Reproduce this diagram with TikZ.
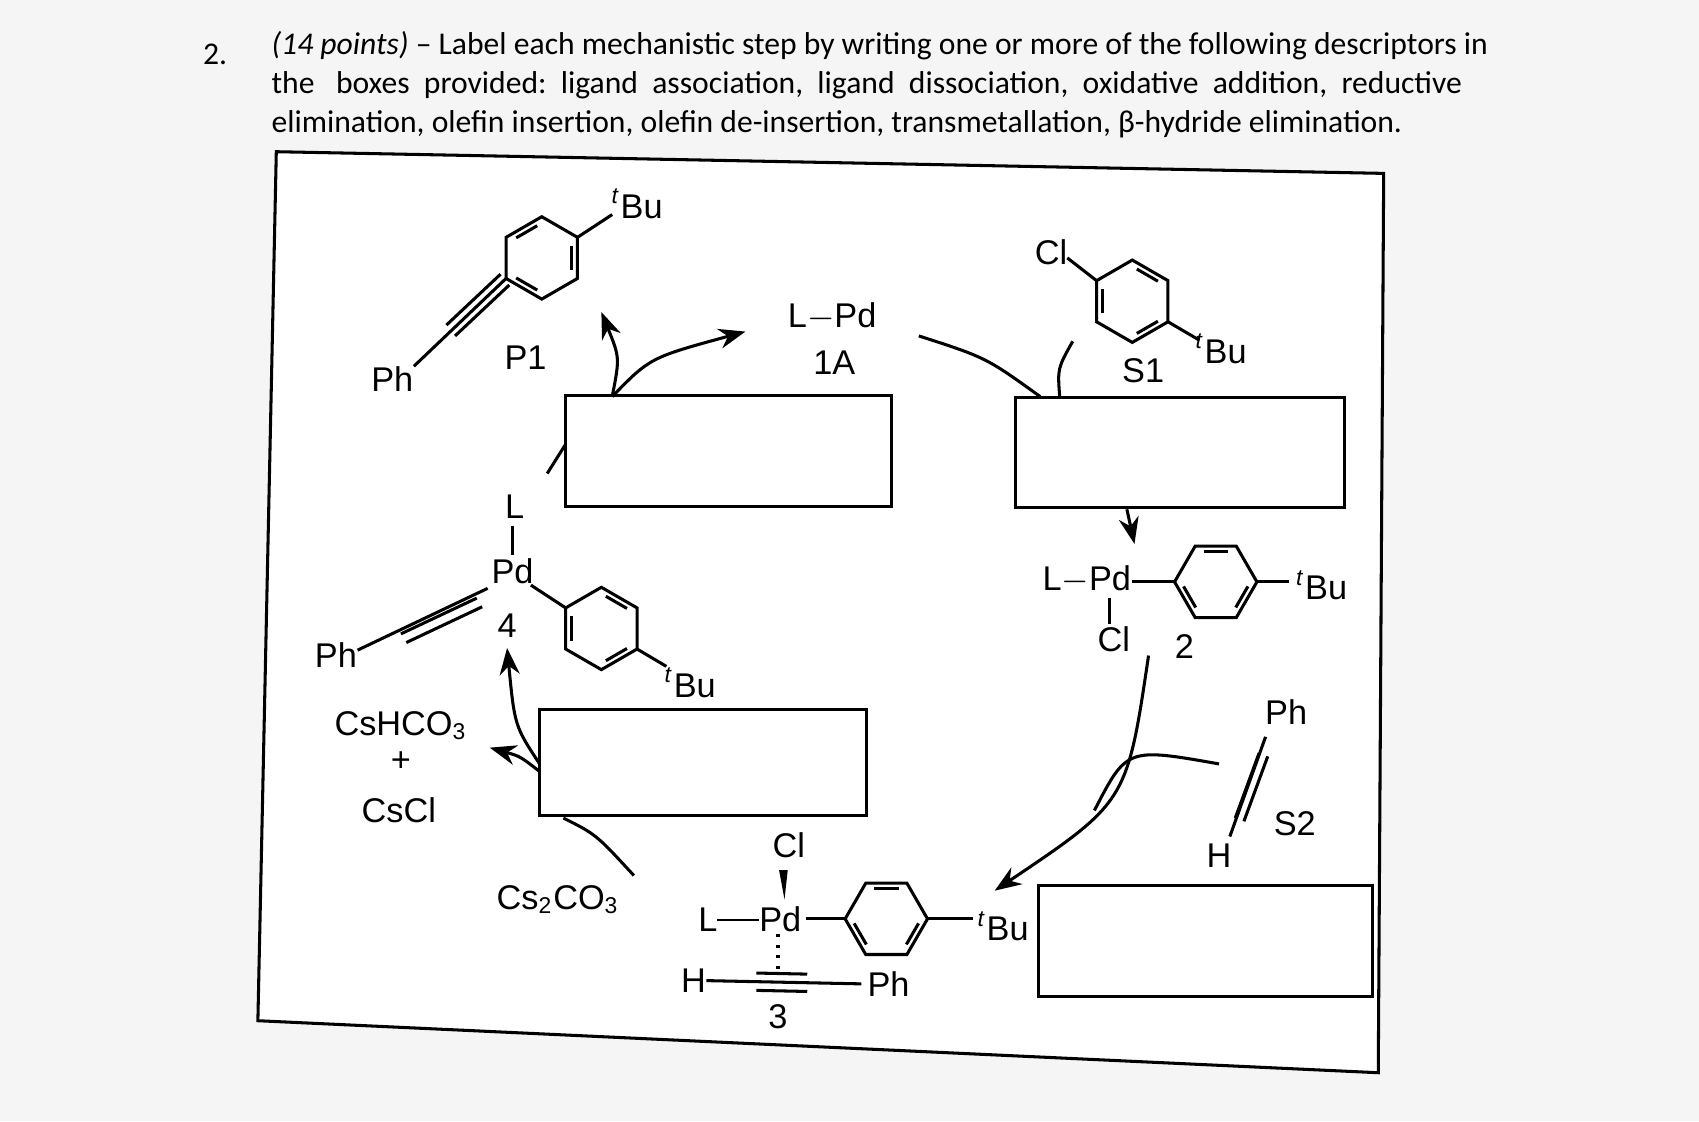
\documentclass[tikz,border=0pt]{standalone}
\usepackage{fontspec}
\setmainfont{Carlito}
\newfontfamily\chem{Liberation Sans}
\usetikzlibrary{arrows.meta,calc}
\newcommand\benz[4]{% name, x, y, rot
 \coordinate (#1) at (#2,#3);
 \draw[thick] ($(#2,#3)+(#4:38)$) \foreach \k in {1,...,5}{ -- ($(#2,#3)+(#4+60*\k:38)$)} -- cycle;
 \foreach \k in {0,2,4}{\draw[thick] ($(#2,#3)+(#4+60*\k+8:30)$) -- ($(#2,#3)+(#4+60*\k+52:30)$);}}
\begin{document}
\begin{tikzpicture}[x=0.01cm,y=-0.01cm,
 lab/.style={font=\chem\fontsize{9}{11}\selectfont,inner sep=1pt},
 box/.style={draw,thick},
 arr/.style={thick,-{Stealth[length=7pt]}},
 bond/.style={thick}]
\useasboundingbox[fill=gray!8] (0,0) rectangle (1568,1035);
\newcommand\tb{\textsuperscript{\textit{t}}Bu}
\node[anchor=north east,font=\fontsize{8.3}{10}\selectfont] (num) at (222,28) {2.};
\node[anchor=north west,align=left,font=\fontsize{8.3}{10.3}\selectfont,inner sep=0] (title) at (250,28) {\textit{(14 points)} -- Label\ each\ mechanistic\ step\ by\ writing\ one\ or\ more\ of\ the\ following\ descriptors\ in\\ the \ \ boxes\ \ provided:\ \ ligand\ \ association,\ \ ligand\ \ dissociation,\ \ oxidative\ \ addition,\ \ reductive\\ elimination, olefin insertion, olefin de-insertion, transmetallation, β-hydride elimination.};
\draw[thick,fill=white] (255,140) -- (1277,160) -- (1272,990) -- (238,942) -- cycle;
\draw[box] (522,365) rectangle (823,467); \coordinate (b1) at (672,416);
\draw[box] (937,367) rectangle (1241,468); \coordinate (b2) at (1089,417);
\draw[box] (498,655) rectangle (800,753); \coordinate (b3) at (649,704);
\draw[box] (958,817) rectangle (1267,920); \coordinate (b4) at (1112,868);
% P1
\benz{r1}{500}{238}{-30}
\node[lab] (p1tbu) at (588,188) {\tb};
\draw[bond] (533,219) -- (565,198);
\node[lab] (p1ph) at (362,350) {Ph};
\draw[bond] (467,257) -- (382,338);
\draw[bond] (470,263) -- (420,310); \draw[bond] (462,253) -- (412,300);
\node[lab] (p1) at (485,330) {P1};
% 1A
\node[lab] (lpd) at (768,292) {L$-$Pd};
\node[lab] (one) at (770,335) {1A};
\coordinate (a1) at (565,366);
\draw[arr] (a1) .. controls (572,330) .. (555,288);
\draw[arr] (a1) .. controls (600,330) .. (688,306);
\draw[thick] (505,437) -- (522,410);
% S1
\benz{r2}{1045}{278}{30}
\node[lab] (cl1) at (970,233) {Cl};
\draw[bond] (985,238) -- (1012,259);
\node[lab] (s1tbu) at (1127,322) {\tb};
\draw[bond] (1078,297) -- (1107,314);
\node[lab] (s1) at (1055,342) {S1};
\draw[thick] (848,310) .. controls (910,330) .. (960,366);
\draw[thick] (978,366) .. controls (976,340) .. (990,315);
\coordinate (a2) at (1040,470);
\draw[arr] (a2) -- (1047,502);
% 2
\node[lab] (lpd2) at (1003,535) {L$-$Pd};
\benz{r3}{1122}{537}{0}
\draw[bond] (1045,537) -- (1084,537);
\draw[bond] (1160,537) -- (1190,537);
\node[lab,anchor=west] (tbu2) at (1192,540) {\tb};
\draw[bond] (1024,552) -- (1024,576);
\node[lab] (cl2) at (1028,590) {Cl};
\node[lab] (two) at (1093,597) {2};
\draw[arr] (1060,605) .. controls (1040,740) .. (918,822);
\draw[thick] (1125,705) .. controls (1040,690) .. (1010,748);
% S2
\node[lab] (ph2) at (1187,657) {Ph};
\draw[bond] (1168,680) -- (1135,772);
\draw[bond] (1162,695) -- (1140,755); \draw[bond] (1170,698) -- (1148,758);
\node[lab] (h2) at (1125,790) {H};
\node[lab] (s2) at (1195,760) {S2};
% 3
\node[lab] (cl3) at (728,780) {Cl};
\fill (719,803) -- (727,803) -- (724,830) -- cycle;
\node[lab] (lpd3) at (692,848) {L\rule[2.6pt]{11pt}{0.6pt}Pd};
\benz{r4}{818}{848}{0}
\draw[bond] (744,848) -- (780,848);
\draw[bond] (856,848) -- (898,848);
\node[lab,anchor=west] (tbu3) at (898,855) {\tb};
\draw[thick,dotted] (718,862) -- (718,895);
\node[lab] (h3) at (640,905) {H};
\draw[bond] (652,905) -- (795,908);
\draw[bond] (698,898) -- (745,899); \draw[bond] (698,914) -- (745,915);
\node[lab] (ph3) at (820,908) {Ph};
\node[lab] (three) at (718,938) {3};
% Cs
\node[lab] (cs) at (515,830) {Cs\textsubscript{2}CO\textsubscript{3}};
\draw[thick] (585,808) .. controls (550,770) .. (520,755);
\node[lab] (csh) at (370,670) {CsHCO\textsubscript{3}};
\node[lab] (plus) at (370,703) {+};
\node[lab] (cscl) at (368,748) {CsCl};
\draw[arr] (498,712) .. controls (480,698) .. (452,690);
\draw[arr] (498,705) .. controls (475,670) .. (468,598);
% 4
\node[lab] (l4) at (475,468) {L};
\draw[bond] (473,485) -- (473,512);
\node[lab] (pd4) at (473,527) {Pd};
\node[lab] (four) at (468,577) {4};
\benz{r5}{555}{580}{30}
\draw[bond] (490,540) -- (522,561);
\node[lab] (tbu4) at (637,630) {\tb};
\draw[bond] (588,599) -- (615,615);
\node[lab] (ph4) at (310,605) {Ph};
\draw[bond] (330,600) -- (450,543);
\draw[bond] (370,585) -- (440,552); \draw[bond] (375,593) -- (445,560);
\end{tikzpicture}
\end{document}
